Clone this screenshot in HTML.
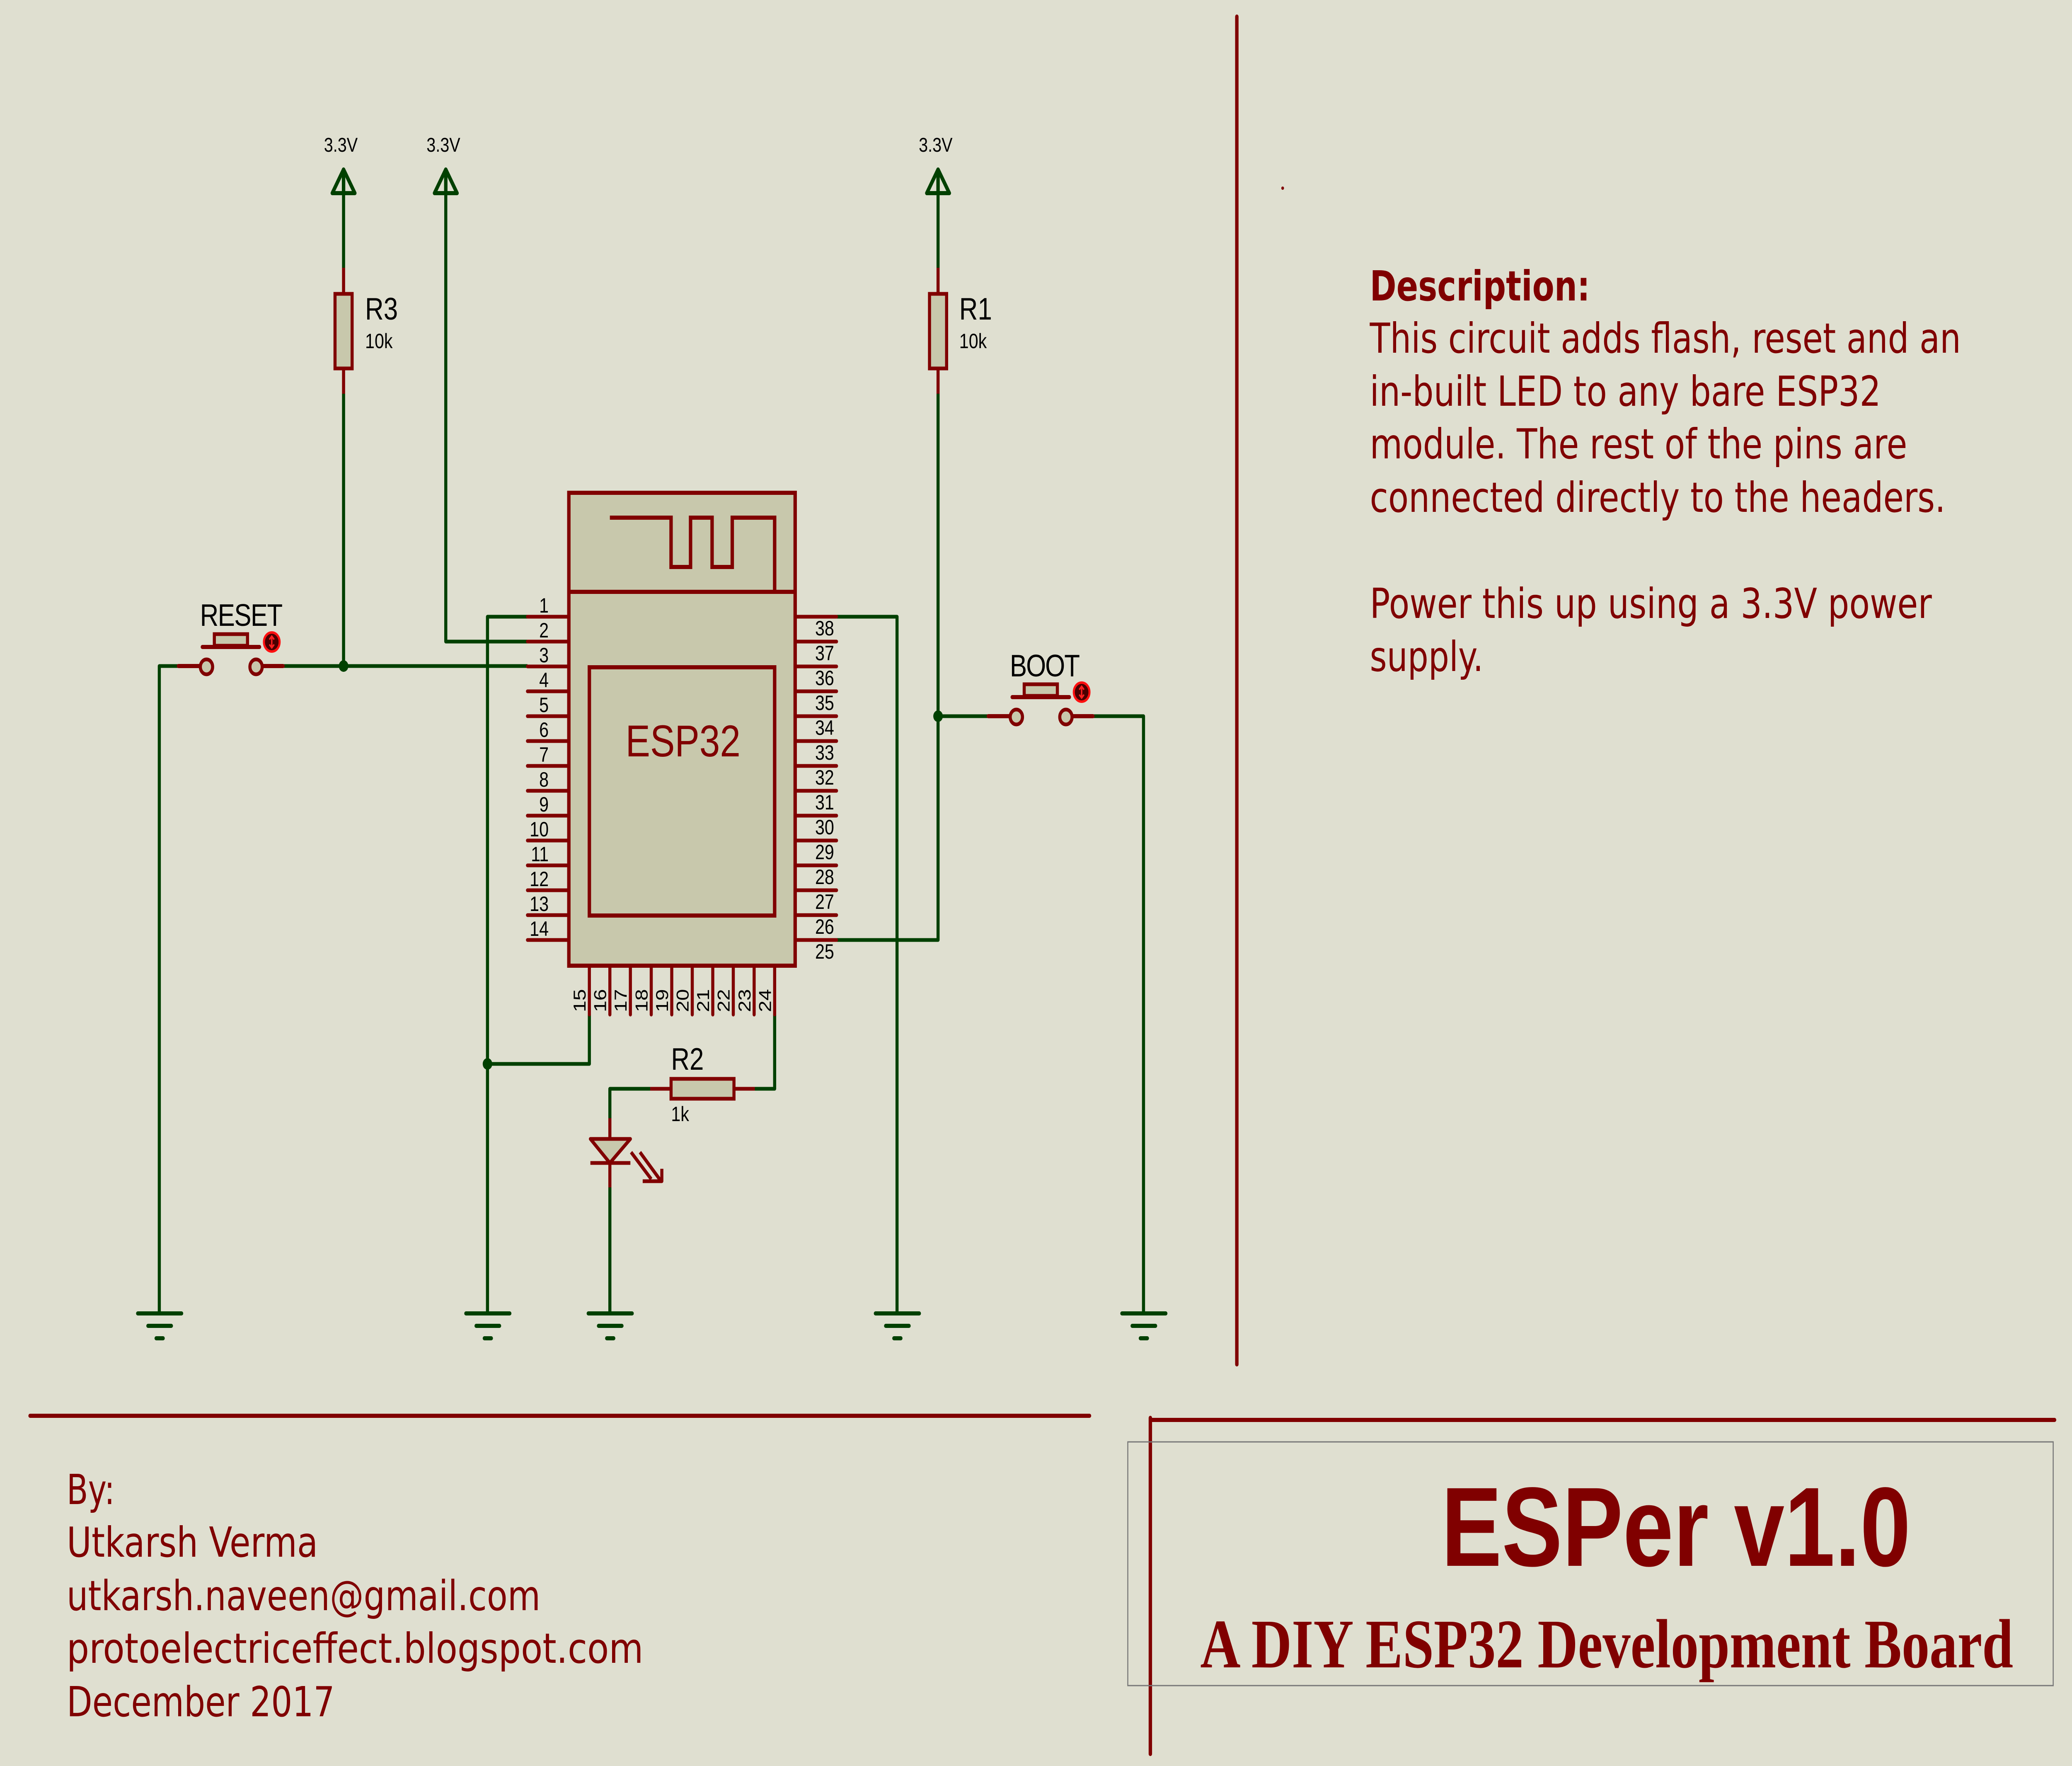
<!DOCTYPE html>
<html><head><meta charset="utf-8"><style>
html,body{margin:0;padding:0;background:#dfdfd0;width:100%;height:100%;overflow:hidden;}
svg{display:block;position:absolute;left:0;top:0;width:100vw;height:100vh}
</style></head><body>
<svg xmlns="http://www.w3.org/2000/svg" viewBox="0 0 6061 4261" preserveAspectRatio="none">
<defs>
<g id="gnd" stroke="#004000" stroke-width="10" stroke-linecap="round" fill="none">
<line x1="-63" y1="0" x2="65" y2="0"/><line x1="-33" y1="30" x2="35" y2="30"/><line x1="-9" y1="60" x2="11" y2="60"/>
</g>
<g id="pwr" stroke="#004000" stroke-width="10" stroke-linejoin="round" fill="none">
<path d="M0,409 L-33,466 L33,466 Z"/><line x1="0" y1="409" x2="0" y2="470"/>
</g>
<g id="sw">
<line x1="522" y1="1607" x2="584" y2="1607" stroke="#800000" stroke-width="10" stroke-linecap="round"/>
<line x1="769" y1="1607" x2="828" y2="1607" stroke="#800000" stroke-width="10" stroke-linecap="round"/>
<circle cx="604" cy="1609" r="18" fill="#c8c8ac" stroke="#800000" stroke-width="9"/>
<circle cx="749" cy="1609" r="18" fill="#c8c8ac" stroke="#800000" stroke-width="9"/>
<line x1="592" y1="1561" x2="759" y2="1561" stroke="#800000" stroke-width="10" stroke-linecap="round"/>
<rect x="627" y="1530" width="97" height="28" fill="#c8c8ac" stroke="#800000" stroke-width="9"/>
<circle cx="795" cy="1549" r="23" fill="#4a0000" stroke="#ff1010" stroke-width="6"/>
<path d="M795,1537 L795,1561 M788,1543 L795,1535 L802,1543 M788,1555 L795,1563 L802,1555" stroke="#ff2020" stroke-width="4" fill="none"/>
</g>
</defs>
<rect width="6061" height="4261" fill="#dfdfd0"/>

<line x1="3618" y1="40" x2="3618" y2="3292" stroke="#800000" stroke-width="10" stroke-linecap="round"/>
<circle cx="3752" cy="454" r="4" fill="#800000"/>
<line x1="88" y1="3416" x2="3187" y2="3416" stroke="#800000" stroke-width="10" stroke-linecap="round"/>
<line x1="3370" y1="3426" x2="6010" y2="3426" stroke="#800000" stroke-width="10" stroke-linecap="round"/>
<line x1="3365" y1="3421" x2="3365" y2="4232" stroke="#800000" stroke-width="10" stroke-linecap="round"/>
<rect x="3299" y="3479" width="2707" height="588" fill="none" stroke="#777" stroke-width="3"/>

<g stroke="#004000" stroke-width="9" fill="none" stroke-linejoin="round">
<polyline points="522,1607 466,1607 466,3169"/>
<line x1="828" y1="1607" x2="1543" y2="1607"/>
<line x1="1005" y1="1607" x2="1005" y2="950"/>
<line x1="1005" y1="646" x2="1005" y2="466"/>
<polyline points="1543,1548 1304,1548 1304,466"/>
<polyline points="1543,1488 1426,1488 1426,3169"/>
<polyline points="1724,2448 1724,2567 1426,2567"/>
<polyline points="2266,2448 2266,2627 2208,2627"/>
<polyline points="1902,2627 1784,2627 1784,2698"/>
<line x1="1784" y1="2865" x2="1784" y2="3169"/>
<polyline points="2448,1488 2624,1488 2624,3169"/>
<polyline points="2448,2268 2744,2268 2744,950"/>
<line x1="2744" y1="646" x2="2744" y2="466"/>
<line x1="2744" y1="1728" x2="2891" y2="1728"/>
<polyline points="3197,1728 3345,1728 3345,3169"/>
</g>
<g fill="#004000">
<circle cx="1005" cy="1607" r="14"/><circle cx="1426" cy="2567" r="14"/><circle cx="2744" cy="1728" r="14"/>
</g>
<use href="#gnd" x="466" y="3169"/>
<use href="#gnd" x="1426" y="3169"/>
<use href="#gnd" x="1784" y="3169"/>
<use href="#gnd" x="2624" y="3169"/>
<use href="#gnd" x="3345" y="3169"/>
<use href="#pwr" x="1005" y="0"/>
<use href="#pwr" x="1304" y="0"/>
<use href="#pwr" x="2744" y="0"/>

<g stroke="#800000" stroke-width="9" fill="#c8c8ac">
<line x1="1005" y1="646" x2="1005" y2="709"/><line x1="1005" y1="889" x2="1005" y2="950"/>
<rect x="980" y="709" width="50" height="180"/>
<line x1="2744" y1="646" x2="2744" y2="709"/><line x1="2744" y1="889" x2="2744" y2="950"/>
<rect x="2719" y="709" width="50" height="180"/>
<line x1="1902" y1="2627" x2="1963" y2="2627"/><line x1="2147" y1="2627" x2="2208" y2="2627"/>
<rect x="1963" y="2603" width="184" height="48"/>
</g>
<g stroke="#800000" stroke-width="9" fill="#c8c8ac" stroke-linejoin="round">
<line x1="1784" y1="2698" x2="1784" y2="2748"/>
<path d="M1727,2748 L1844,2748 L1784,2806 Z"/>
<line x1="1727" y1="2806" x2="1844" y2="2806"/>
<line x1="1784" y1="2806" x2="1784" y2="2865"/>
<g fill="none"><line x1="1846" y1="2780" x2="1905" y2="2845"/><line x1="1872" y1="2780" x2="1932" y2="2848"/>
<polyline points="1880,2850 1936,2850 1936,2820"/></g>
</g>

<use href="#sw"/>
<use href="#sw" x="2369" y="121"/>

<g stroke="#800000" stroke-width="9" stroke-linecap="round">
<g id="lp">
<line x1="1543" y1="1488" x2="1664" y2="1488"/><line x1="1543" y1="1548" x2="1664" y2="1548"/><line x1="1543" y1="1608" x2="1664" y2="1608"/><line x1="1543" y1="1668" x2="1664" y2="1668"/><line x1="1543" y1="1728" x2="1664" y2="1728"/><line x1="1543" y1="1788" x2="1664" y2="1788"/><line x1="1543" y1="1848" x2="1664" y2="1848"/><line x1="1543" y1="1908" x2="1664" y2="1908"/><line x1="1543" y1="1968" x2="1664" y2="1968"/><line x1="1543" y1="2028" x2="1664" y2="2028"/><line x1="1543" y1="2088" x2="1664" y2="2088"/><line x1="1543" y1="2148" x2="1664" y2="2148"/><line x1="1543" y1="2208" x2="1664" y2="2208"/><line x1="1543" y1="2268" x2="1664" y2="2268"/>
</g>
<use href="#lp" x="783"/>
<line x1="1724" y1="2330" x2="1724" y2="2448"/><line x1="1784" y1="2330" x2="1784" y2="2448"/><line x1="1844" y1="2330" x2="1844" y2="2448"/><line x1="1905" y1="2330" x2="1905" y2="2448"/><line x1="1965" y1="2330" x2="1965" y2="2448"/><line x1="2025" y1="2330" x2="2025" y2="2448"/><line x1="2085" y1="2330" x2="2085" y2="2448"/><line x1="2145" y1="2330" x2="2145" y2="2448"/><line x1="2206" y1="2330" x2="2206" y2="2448"/><line x1="2266" y1="2330" x2="2266" y2="2448"/>
</g>
<g stroke="#800000" stroke-width="10" fill="#c8c8ac">
<rect x="1664" y="1189" width="662" height="1141"/>
<line x1="1664" y1="1428" x2="2326" y2="1428"/>
<rect x="1724" y="1610" width="542" height="599"/>
<polyline fill="none" points="1784,1249 1963,1249 1963,1368 2020,1368 2020,1249 2083,1249 2083,1368 2142,1368 2142,1249 2266,1249 2266,1428"/>
</g>
<text x="1998" y="1825" font-family="Liberation Sans, sans-serif" font-size="108" fill="#800000" text-anchor="middle">ESP32</text>

<g font-family="Liberation Sans, sans-serif" font-size="50" fill="#000">
<g text-anchor="end">
<text x="1605" y="1478">1</text><text x="1605" y="1538">2</text><text x="1605" y="1598">3</text><text x="1605" y="1658">4</text><text x="1605" y="1718">5</text><text x="1605" y="1778">6</text><text x="1605" y="1838">7</text><text x="1605" y="1898">8</text><text x="1605" y="1958">9</text><text x="1605" y="2018">10</text><text x="1605" y="2078">11</text><text x="1605" y="2138">12</text><text x="1605" y="2198">13</text><text x="1605" y="2258">14</text>
<text x="2440" y="1533">38</text><text x="2440" y="1593">37</text><text x="2440" y="1653">36</text><text x="2440" y="1713">35</text><text x="2440" y="1773">34</text><text x="2440" y="1833">33</text><text x="2440" y="1893">32</text><text x="2440" y="1953">31</text><text x="2440" y="2013">30</text><text x="2440" y="2073">29</text><text x="2440" y="2133">28</text><text x="2440" y="2193">27</text><text x="2440" y="2253">26</text><text x="2440" y="2313">25</text>
</g>
<text transform="translate(1713,2442) rotate(-90)">15</text>
<text transform="translate(1773,2442) rotate(-90)">16</text>
<text transform="translate(1833,2442) rotate(-90)">17</text>
<text transform="translate(1894,2442) rotate(-90)">18</text>
<text transform="translate(1954,2442) rotate(-90)">19</text>
<text transform="translate(2014,2442) rotate(-90)">20</text>
<text transform="translate(2074,2442) rotate(-90)">21</text>
<text transform="translate(2134,2442) rotate(-90)">22</text>
<text transform="translate(2195,2442) rotate(-90)">23</text>
<text transform="translate(2255,2442) rotate(-90)">24</text>
<g text-anchor="middle" font-size="48">
<text x="997" y="366">3.3V</text><text x="1297" y="366">3.3V</text><text x="2737" y="366">3.3V</text>
</g>
<text x="1068" y="771" font-size="75">R3</text><text x="1068" y="840">10k</text>
<text x="2806" y="771" font-size="75">R1</text><text x="2806" y="840">10k</text>
<text x="1963" y="2581" font-size="75">R2</text><text x="1963" y="2705">1k</text>
<text x="585" y="1510" font-size="75" textLength="242">RESET</text>
<text x="2954" y="1632" font-size="75" textLength="205">BOOT</text>
</g>

<g font-family="DejaVu Sans, Liberation Sans, sans-serif" font-size="100" fill="#800000">
<text x="4007" y="725" font-weight="bold" textLength="644" lengthAdjust="spacingAndGlyphs">Description:</text>
<text x="4007" y="851" textLength="1729" lengthAdjust="spacingAndGlyphs">This circuit adds flash, reset and an</text>
<text x="4007" y="979" textLength="1495" lengthAdjust="spacingAndGlyphs">in-built LED to any bare ESP32</text>
<text x="4007" y="1106" textLength="1572" lengthAdjust="spacingAndGlyphs">module. The rest of the pins are</text>
<text x="4007" y="1235" textLength="1684" lengthAdjust="spacingAndGlyphs">connected directly to the headers.</text>
<text x="4007" y="1491" textLength="1644" lengthAdjust="spacingAndGlyphs">Power this up using a 3.3V power</text>
<text x="4007" y="1619" textLength="332" lengthAdjust="spacingAndGlyphs">supply.</text>
<text x="195" y="3629" textLength="141" lengthAdjust="spacingAndGlyphs">By:</text>
<text x="195" y="3756" textLength="735" lengthAdjust="spacingAndGlyphs">Utkarsh Verma</text>
<text x="195" y="3885" textLength="1386" lengthAdjust="spacingAndGlyphs">utkarsh.naveen@gmail.com</text>
<text x="195" y="4012" textLength="1687" lengthAdjust="spacingAndGlyphs">protoelectriceffect.blogspot.com</text>
<text x="195" y="4141" textLength="784" lengthAdjust="spacingAndGlyphs">December 2017</text>
</g>
<text x="4216" y="3778" font-family="Liberation Sans, sans-serif" font-weight="bold" font-size="272" fill="#800000" textLength="1373" lengthAdjust="spacingAndGlyphs">ESPer v1.0</text>
<text x="3511" y="4023" font-family="Liberation Serif, serif" font-weight="bold" font-size="168" fill="#800000" textLength="2378" lengthAdjust="spacingAndGlyphs">A DIY ESP32 Development Board</text>
</svg>
</body></html>
